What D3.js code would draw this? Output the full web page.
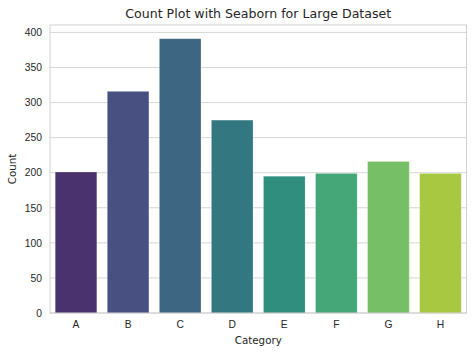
<!DOCTYPE html>
<html>
<head>
<meta charset="utf-8">
<script src="https://cdn.jsdelivr.net/npm/d3@7"></script>
<style>
  html, body { margin: 0; padding: 0; background: #fff; }
  svg { display: block; font-family: "DejaVu Sans", sans-serif; }
</style>
</head>
<body>
<div id="chart"></div>
<script>
// Count per category
const categories = ["A", "B", "C", "D", "E", "F", "G", "H"]
const counts = [201, 316, 391, 275, 195, 199, 216, 199]
const yTicks = [0, 50, 100, 150, 200, 250, 300, 350, 400]

const width = 474
const height = 353
const margin = { top: 25, right: 7.5, bottom: 40, left: 50 }
const innerW = width - margin.left - margin.right
const innerH = height - margin.top - margin.bottom
const textColor = "#262626"
const gridColor = "#cccccc"

const svg = d3.select("#chart")
  .append("svg")
  .attr("width", width)
  .attr("height", height)

const g = svg.append("g")
  .attr("transform", `translate(${margin.left},${margin.top})`)

const x = d3.scaleBand()
  .domain(categories)
  .range([0, innerW])
  .paddingInner(0.2)
  .paddingOuter(0.1)

const y = d3.scaleLinear()
  .domain([0, d3.max(counts) * 1.05])
  .range([innerH, 0])

// seaborn "viridis" palette, desaturated to 0.75 like barplot does
const color = (i) => {
  const c = d3.hsl(d3.interpolateViridis((i + 1) / (categories.length + 1)))
  c.s *= 0.75
  return c.formatHex()
}

// Grid lines
g.append("g")
  .selectAll("line")
  .data(yTicks)
  .join("line")
  .attr("x1", 0)
  .attr("x2", innerW)
  .attr("y1", d => y(d))
  .attr("y2", d => y(d))
  .attr("stroke", gridColor)
  .attr("stroke-width", 0.8)

// Bars
g.append("g")
  .selectAll("rect")
  .data(counts)
  .join("rect")
  .attr("x", (d, i) => x(categories[i]))
  .attr("y", d => y(d))
  .attr("width", x.bandwidth())
  .attr("height", d => innerH - y(d))
  .attr("fill", (d, i) => color(i))
  .attr("stroke", "#ffffff")
  .attr("stroke-opacity", 0.35)
  .attr("stroke-width", 0.7)

// Spines
g.append("rect")
  .attr("x", 0)
  .attr("y", 0)
  .attr("width", innerW)
  .attr("height", innerH)
  .attr("fill", "none")
  .attr("stroke", gridColor)
  .attr("stroke-width", 0.9)

// Y axis
const yAxis = g.append("g")
  .call(d3.axisLeft(y).tickValues(yTicks).tickSize(0).tickPadding(8))
yAxis.select(".domain").remove()
yAxis.selectAll("text")
  .attr("fill", textColor)
  .attr("font-size", "10.3px")

// X axis
const xAxis = g.append("g")
  .attr("transform", `translate(0,${innerH})`)
  .call(d3.axisBottom(x).tickSize(0).tickPadding(7.5))
xAxis.select(".domain").remove()
xAxis.selectAll("text")
  .attr("fill", textColor)
  .attr("font-size", "10.3px")

// Labels
svg.append("text")
  .attr("x", margin.left + innerW / 2)
  .attr("y", 17.5)
  .attr("text-anchor", "middle")
  .attr("fill", textColor)
  .attr("font-size", "12.6px")
  .text("Count Plot with Seaborn for Large Dataset")

svg.append("text")
  .attr("x", margin.left + innerW / 2)
  .attr("y", 343.5)
  .attr("text-anchor", "middle")
  .attr("fill", textColor)
  .attr("font-size", "10.3px")
  .text("Category")

svg.append("text")
  .attr("transform", `translate(15.5,${margin.top + innerH / 2}) rotate(-90)`)
  .attr("text-anchor", "middle")
  .attr("fill", textColor)
  .attr("font-size", "10.3px")
  .text("Count")
</script>
</body>
</html>
